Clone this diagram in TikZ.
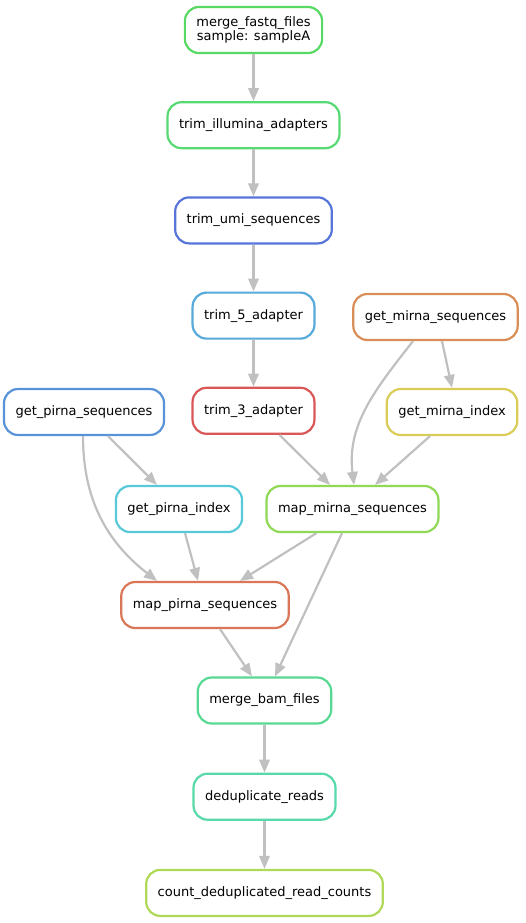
\documentclass[tikz,border=0pt]{standalone}
\usepackage{fontspec}
\usepackage{xcolor}
\usepackage{tikz}
\usetikzlibrary{arrows.meta,positioning}
\newfontfamily\dagfont{DejaVu Sans}
\definecolor{edgegray}{RGB}{192,192,192}
\definecolor{cmergefastq}{RGB}{87,217,100}
\definecolor{ctrimillumina}{RGB}{87,217,116}
\definecolor{ctrimumi}{RGB}{87,116,217}
\definecolor{ctrimfive}{RGB}{87,170,217}
\definecolor{ctrimthree}{RGB}{217,87,87}
\definecolor{cmirnaseq}{RGB}{217,142,87}
\definecolor{cmirnaidx}{RGB}{217,204,87}
\definecolor{cpirnaseq}{RGB}{87,147,217}
\definecolor{cpirnaidx}{RGB}{87,201,217}
\definecolor{cmapmirna}{RGB}{144,217,87}
\definecolor{cmappirna}{RGB}{217,118,87}
\definecolor{cmergebam}{RGB}{87,217,147}
\definecolor{cdedup}{RGB}{87,217,170}
\definecolor{ccount}{RGB}{175,217,87}

\begin{document}
\begin{tikzpicture}[
    x=1pt, y=-1pt,
    node distance=47pt,
    every node/.style={font=\dagfont\fontsize{13}{14.5}\selectfont, align=center},
    rule/.style={draw=#1, line width=2.2pt, rounded corners=14pt, fill=white,
                 minimum height=46pt, inner xsep=11.5pt},
    arr/.style={-{Triangle[length=13pt,width=10.5pt]}, line width=2.2pt, color=edgegray}
]
\useasboundingbox (0,0) rectangle (526,923);
\node (mergefastq) [rule=cmergefastq] at (253.5,30) {merge\_fastq\_files\\sample: sampleA};
\node (trimillumina) [rule=ctrimillumina, below=of mergefastq] {trim\_illumina\_adapters};
\node (trimumi) [rule=ctrimumi, below=of trimillumina] {trim\_umi\_sequences};
\node (trimfive) [rule=ctrimfive, below=of trimumi] {trim\_5\_adapter};
\node (trimthree) [rule=ctrimthree, below=of trimfive] {trim\_3\_adapter};
\node (mirnaseq) [rule=cmirnaseq] at (435.5,317) {get\_mirna\_sequences};
\node (mirnaidx) [rule=cmirnaidx] at (452,412) {get\_mirna\_index};
\node (pirnaseq) [rule=cpirnaseq] at (84,412) {get\_pirna\_sequences};
\node (pirnaidx) [rule=cpirnaidx] at (179,509) {get\_pirna\_index};
\node (mapmirna) [rule=cmapmirna] at (352.5,509) {map\_mirna\_sequences};
\node (mappirna) [rule=cmappirna] at (205,605) {map\_pirna\_sequences};
\node (mergebam) [rule=cmergebam] at (264.5,700.5) {merge\_bam\_files};
\node (dedup) [rule=cdedup, below=48pt of mergebam] {deduplicate\_reads};
\node (count) [rule=ccount, below=48pt of dedup] {count\_deduplicated\_read\_counts};

\draw[arr] (mergefastq) -- (trimillumina);
\draw[arr] (trimillumina) -- (trimumi);
\draw[arr] (trimumi) -- (trimfive);
\draw[arr] (trimfive) -- (trimthree);
\draw[arr] ([xshift=6.5pt]mirnaseq.south) -- (mirnaidx.north);
\draw[arr] ([xshift=-22.5pt]mirnaseq.south) to[out=-128, in=97] ([xshift=1.5pt]mapmirna.north);
\draw[arr] ([xshift=26pt]trimthree.south) -- ([xshift=-22.5pt]mapmirna.north);
\draw[arr] ([xshift=-22pt]mirnaidx.south) -- ([xshift=22.5pt]mapmirna.north);
\draw[arr] ([xshift=24pt]pirnaseq.south) -- ([xshift=-22pt]pirnaidx.north);
\draw[arr] ([xshift=-1pt]pirnaseq.south) to[out=-90, in=142] ([xshift=-48pt]mappirna.north);
\draw[arr] ([xshift=6pt]pirnaidx.south) -- ([xshift=-7pt]mappirna.north);
\draw[arr] ([xshift=-36pt]mapmirna.south) -- ([xshift=35pt]mappirna.north);
\draw[arr] ([xshift=-10.5pt]mapmirna.south) -- ([xshift=10.5pt]mergebam.north);
\draw[arr] ([xshift=15pt]mappirna.south) -- ([xshift=-12.5pt]mergebam.north);
\draw[arr] (mergebam) -- (dedup);
\draw[arr] (dedup) -- (count);
\end{tikzpicture}
\end{document}
